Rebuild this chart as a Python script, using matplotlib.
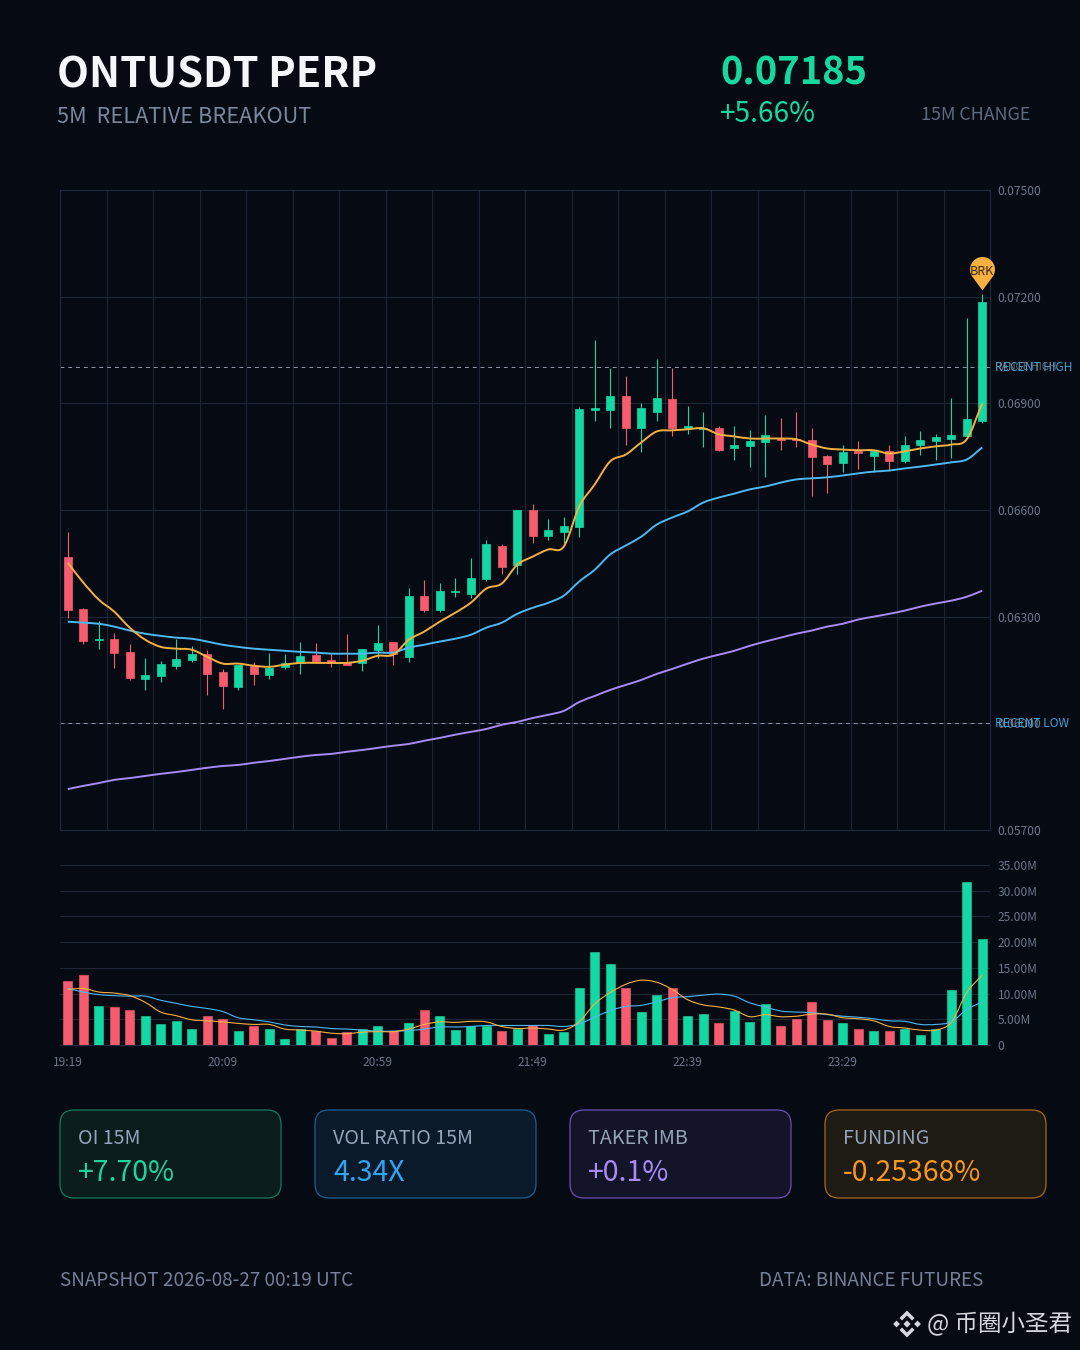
import matplotlib
matplotlib.use("Agg")
import matplotlib.pyplot as plt
import numpy as np
from matplotlib.patches import FancyBboxPatch, PathPatch, Polygon
from matplotlib.path import Path

plt.rcParams['font.family'] = ['Noto Sans CJK SC', 'DejaVu Sans']

# candles, 5m bars from 19:19
opens = [0.06469, 0.06322, 0.06234, 0.06238, 0.06201, 0.06125, 0.06134, 0.06162, 0.06179, 0.06196,
         0.06145, 0.06103, 0.06162, 0.06137, 0.06159, 0.06170, 0.06193, 0.06179, 0.06170, 0.06170,
         0.06207, 0.06230, 0.06187, 0.06359, 0.06320, 0.06370, 0.06365, 0.06407, 0.06500, 0.06444,
         0.06601, 0.06528, 0.06539, 0.06553, 0.06880, 0.06880, 0.06920, 0.06832, 0.06877, 0.06911,
         0.06830, 0.06827, 0.06832, 0.06773, 0.06779, 0.06790, 0.06801, 0.06801, 0.06796, 0.06751,
         0.06731, 0.06765, 0.06753, 0.06765, 0.06737, 0.06784, 0.06793, 0.06801, 0.06807, 0.06849]
closes = [0.06320, 0.06232, 0.06238, 0.06199, 0.06128, 0.06137, 0.06168, 0.06182, 0.06196, 0.06139,
          0.06106, 0.06165, 0.06139, 0.06156, 0.06170, 0.06190, 0.06176, 0.06170, 0.06165, 0.06210,
          0.06227, 0.06196, 0.06359, 0.06320, 0.06373, 0.06373, 0.06410, 0.06503, 0.06441, 0.06601,
          0.06528, 0.06545, 0.06556, 0.06883, 0.06886, 0.06920, 0.06832, 0.06886, 0.06914, 0.06830,
          0.06835, 0.06832, 0.06770, 0.06784, 0.06793, 0.06810, 0.06796, 0.06796, 0.06748, 0.06728,
          0.06762, 0.06759, 0.06765, 0.06739, 0.06784, 0.06796, 0.06804, 0.06810, 0.06855, 0.07185]
highs = [0.06539, 0.06325, 0.06289, 0.06255, 0.06224, 0.06184, 0.06176, 0.06238, 0.06218, 0.06207,
         0.06153, 0.06165, 0.06173, 0.06199, 0.06196, 0.06230, 0.06227, 0.06196, 0.06252, 0.06210,
         0.06277, 0.06230, 0.06382, 0.06404, 0.06396, 0.06410, 0.06466, 0.06517, 0.06503, 0.06601,
         0.06618, 0.06576, 0.06579, 0.06889, 0.07077, 0.06999, 0.06976, 0.06900, 0.07024, 0.06999,
         0.06892, 0.06877, 0.06835, 0.06835, 0.06824, 0.06866, 0.06858, 0.06877, 0.06832, 0.06756,
         0.06784, 0.06793, 0.06765, 0.06782, 0.06807, 0.06821, 0.06815, 0.06914, 0.07139, 0.07207]
lows = [0.06297, 0.06224, 0.06210, 0.06156, 0.06122, 0.06094, 0.06117, 0.06153, 0.06173, 0.06080,
        0.06041, 0.06094, 0.06108, 0.06125, 0.06153, 0.06139, 0.06173, 0.06159, 0.06165, 0.06148,
        0.06184, 0.06165, 0.06173, 0.06314, 0.06314, 0.06356, 0.06353, 0.06399, 0.06421, 0.06421,
        0.06508, 0.06517, 0.06508, 0.06525, 0.06849, 0.06830, 0.06784, 0.06762, 0.06849, 0.06807,
        0.06813, 0.06776, 0.06765, 0.06742, 0.06720, 0.06694, 0.06770, 0.06776, 0.06638, 0.06649,
        0.06706, 0.06714, 0.06708, 0.06711, 0.06731, 0.06756, 0.06742, 0.06745, 0.06807, 0.06844]

ema_fast = [0.06452, 0.06396, 0.06348, 0.06314, 0.06269, 0.06235, 0.06215, 0.06210, 0.06207, 0.06187,
            0.06168, 0.06168, 0.06162, 0.06159, 0.06165, 0.06170, 0.06170, 0.06170, 0.06170, 0.06176,
            0.06190, 0.06193, 0.06235, 0.06258, 0.06286, 0.06311, 0.06339, 0.06379, 0.06393, 0.06446,
            0.06469, 0.06489, 0.06497, 0.06610, 0.06672, 0.06737, 0.06756, 0.06790, 0.06821, 0.06824,
            0.06827, 0.06830, 0.06813, 0.06807, 0.06801, 0.06801, 0.06801, 0.06799, 0.06784, 0.06773,
            0.06770, 0.06768, 0.06768, 0.06759, 0.06765, 0.06773, 0.06779, 0.06784, 0.06799, 0.06900]
ema_mid = [0.06286, 0.06283, 0.06280, 0.06272, 0.06261, 0.06252, 0.06246, 0.06241, 0.06238, 0.06230,
           0.06221, 0.06215, 0.06210, 0.06207, 0.06204, 0.06201, 0.06199, 0.06196, 0.06196, 0.06196,
           0.06199, 0.06199, 0.06213, 0.06221, 0.06230, 0.06238, 0.06249, 0.06269, 0.06283, 0.06308,
           0.06325, 0.06339, 0.06359, 0.06399, 0.06432, 0.06475, 0.06500, 0.06525, 0.06559, 0.06579,
           0.06596, 0.06621, 0.06635, 0.06646, 0.06658, 0.06666, 0.06677, 0.06686, 0.06689, 0.06692,
           0.06697, 0.06703, 0.06708, 0.06711, 0.06717, 0.06722, 0.06728, 0.06734, 0.06742, 0.06776]
ema_slow = [0.05815, 0.05824, 0.05832, 0.05841, 0.05846, 0.05852, 0.05858, 0.05863, 0.05869, 0.05875,
            0.05880, 0.05883, 0.05889, 0.05894, 0.05900, 0.05906, 0.05911, 0.05914, 0.05920, 0.05925,
            0.05931, 0.05937, 0.05942, 0.05951, 0.05959, 0.05968, 0.05976, 0.05984, 0.05996, 0.06004,
            0.06015, 0.06024, 0.06035, 0.06060, 0.06077, 0.06094, 0.06108, 0.06122, 0.06139, 0.06153,
            0.06168, 0.06182, 0.06193, 0.06204, 0.06218, 0.06230, 0.06241, 0.06252, 0.06261, 0.06272,
            0.06280, 0.06292, 0.06300, 0.06308, 0.06317, 0.06328, 0.06337, 0.06345, 0.06356, 0.06373]

# volume in millions
volume = [12.5, 13.7, 7.5, 7.4, 6.9, 5.7, 4.0, 4.7, 3.2, 5.7,
          5.0, 2.8, 3.6, 3.2, 1.1, 3.2, 2.8, 1.4, 2.6, 3.1,
          3.6, 2.7, 4.2, 6.8, 5.6, 3.0, 3.7, 3.7, 2.7, 3.2,
          3.8, 2.1, 2.6, 11.1, 18.0, 15.8, 11.1, 6.4, 9.7, 11.1,
          5.6, 6.1, 4.2, 6.7, 4.5, 7.9, 3.6, 5.1, 8.4, 4.9,
          4.2, 3.2, 2.7, 2.8, 3.2, 1.9, 3.1, 10.7, 31.6, 20.7]
vol_fast = [10.8, 11.0, 10.3, 10.1, 9.6, 8.3, 6.4, 5.7, 4.9, 4.7,
            4.5, 4.2, 4.0, 4.0, 3.1, 2.9, 2.7, 2.3, 2.2, 2.5,
            2.6, 2.6, 3.1, 4.0, 4.5, 4.4, 4.6, 4.5, 3.6, 3.2,
            3.3, 3.1, 2.9, 4.5, 8.0, 10.2, 11.8, 12.6, 12.2, 10.8,
            8.8, 7.8, 7.4, 6.8, 5.5, 5.9, 5.5, 5.6, 6.0, 6.0,
            5.3, 5.1, 4.7, 3.6, 3.3, 2.9, 2.9, 4.4, 10.2, 13.6]
vol_slow = [11.0, 10.3, 9.8, 9.6, 9.5, 9.5, 8.7, 8.1, 7.5, 7.1,
            6.5, 5.3, 4.9, 4.5, 3.9, 3.6, 3.5, 3.2, 3.1, 2.9,
            2.7, 2.7, 2.8, 3.1, 3.5, 3.5, 3.6, 3.8, 3.8, 3.8,
            3.8, 3.8, 3.6, 4.1, 5.4, 6.7, 7.5, 7.7, 8.4, 9.2,
            9.4, 9.7, 9.9, 9.5, 8.2, 7.4, 6.6, 6.4, 6.3, 5.9,
            5.6, 5.4, 5.1, 4.7, 4.6, 4.0, 4.0, 4.5, 6.9, 8.4]

price_ticks = [0.057, 0.060, 0.063, 0.066, 0.069, 0.072, 0.075]
vol_ticks = [0, 5, 10, 15, 20, 25, 30, 35]
time_pos = [0, 10, 20, 30, 40, 50]
time_labels = ["19:19", "20:09", "20:59", "21:49", "22:39", "23:29"]
recent_high = 0.07002
recent_low = 0.06000

cards = [("OI 15M", "+7.70%", "#0b1c1c", "#127a5c", "#1fd39c"),
         ("VOL RATIO 15M", "4.34X", "#0a1a2a", "#1c5f94", "#2ea6f2"),
         ("TAKER IMB", "+0.1%", "#141428", "#6b4fb5", "#a78bfa"),
         ("FUNDING", "-0.25368%", "#1e1a14", "#a8661a", "#f7981d")]

BG = "#060a13"
GRID = "#1c2636"
UP = "#14d8a3"
DOWN = "#f65c6d"
ORANGE = "#f6b042"
BLUE = "#4cb8f4"
PURPLE = "#a78bfa"
TICK = "#6b7688"


def fs(px):
    return px * 0.72


def smooth_line(ax, xs, ys, color, lw, zorder):
    # curve through the values, bezier handles only
    pts = np.column_stack([xs, ys])
    slopes = np.gradient(pts, axis=0)
    verts = [pts[0]]
    codes = [Path.MOVETO]
    for i in range(len(pts) - 1):
        verts += [pts[i] + slopes[i] / 3, pts[i + 1] - slopes[i + 1] / 3, pts[i + 1]]
        codes += [Path.CURVE4] * 3
    ax.add_patch(PathPatch(Path(verts, codes), fill=False, edgecolor=color, lw=lw, zorder=zorder))


x = np.arange(len(opens))
opens = np.array(opens)
closes = np.array(closes)
is_up = closes >= opens
colors = [UP if u else DOWN for u in is_up]

fig = plt.figure(figsize=(10.8, 13.5), dpi=100, facecolor=BG)

# full-size layer in pixels for the header, cards and footer
bg = fig.add_axes([0, 0, 1, 1])
bg.set_xlim(0, 1080)
bg.set_ylim(1350, 0)
bg.axis("off")

bg.text(57, 76, "ONTUSDT PERP", color="#f3f6fa", fontsize=fs(41.6), fontweight="bold", va="center")
bg.text(57, 117, "5M  RELATIVE BREAKOUT", color="#7b889c", fontsize=fs(21.75), va="center")
bg.text(720, 73, "0.07185", color="#16d9a0", fontsize=fs(38), fontweight="bold", va="center")
bg.text(720, 114, "+5.66%", color="#16d9a0", fontsize=fs(28), va="center")
bg.text(1030, 115, "15M CHANGE", color="#5f6b7e", fontsize=fs(17.9), va="center", ha="right")

for i, (label, val, fill, edge, col) in enumerate(cards):
    x0 = 60 + 255 * i
    bg.add_patch(FancyBboxPatch((x0 + 14, 1110 + 14), 221 - 28, 88 - 28,
                                boxstyle="round,pad=14,rounding_size=14",
                                facecolor=fill, edgecolor=edge, linewidth=0.9))
    bg.text(x0 + 18, 1139, label, color="#94a3b8", fontsize=fs(19.7), va="center")
    bg.text(x0 + 18, 1173, val, color=col, fontsize=fs(28.4), va="center")

bg.text(60, 1280, "SNAPSHOT 2026-08-27 00:19 UTC", color="#758196", fontsize=fs(18.9), va="center")
bg.text(983, 1280, "DATA: BINANCE FUTURES", color="#758196", fontsize=fs(18.9), va="center", ha="right")

# binance logo + watermark
logo = "#d4d7db"
cx, cy = 907, 1324
for dx, dy, r in [(-10.5, 0, 3.4), (10.5, 0, 3.4), (0, 0, 3.6)]:
    bg.add_patch(Polygon([(cx + dx - r, cy + dy), (cx + dx, cy + dy - r), (cx + dx + r, cy + dy), (cx + dx, cy + dy + r)],
                         facecolor=logo, edgecolor="none"))
for s in (-1, 1):
    bg.add_patch(Polygon([(cx - 7.5, cy + s * 6), (cx, cy + s * 13.5), (cx + 7.5, cy + s * 6), (cx + 5, cy + s * 3.5),
                          (cx, cy + s * 8.5), (cx - 5, cy + s * 3.5)], facecolor=logo, edgecolor="none"))
bg.text(927, 1324, "@ 币圈小圣君", color="#d4d7db", fontsize=fs(23.5), va="center")

# price panel
ax = fig.add_axes([60 / 1080, 1 - 830 / 1350, 930 / 1080, 640 / 1350], facecolor="none")
ax.set_xlim(-0.5, 59.5)
ax.set_ylim(0.057, 0.075)
ax.vlines(x, lows, highs, colors=colors, linewidth=0.8, zorder=2)
ax.bar(x, np.abs(closes - opens), bottom=np.minimum(opens, closes), width=0.52,
       color=colors, edgecolor=colors, linewidth=0.5, zorder=3)
smooth_line(ax, x, ema_slow, PURPLE, 1.4, 4)
smooth_line(ax, x, ema_mid, BLUE, 1.4, 4)
smooth_line(ax, x, ema_fast, ORANGE, 1.4, 5)

for level in (recent_high, recent_low):
    ax.axhline(level, color="#8d97a8", lw=0.7, dashes=(4, 4), zorder=1.5)

ax.set_xticks(np.arange(-0.5, 60, 3))
ax.set_yticks(price_ticks)
ax.set_yticklabels(["%.5f" % t for t in price_ticks])
ax.yaxis.tick_right()
ax.tick_params(axis="y", length=0, pad=5.5, labelsize=fs(12), labelcolor=TICK)
ax.tick_params(axis="x", length=0, labelbottom=False)
ax.grid(True, color=GRID, lw=0.8, zorder=0)
ax.set_axisbelow(True)
for s in ax.spines.values():
    s.set_color("#1f2a3c")
    s.set_linewidth(0.8)

# breakout pin above last candle
a = np.radians(np.linspace(-36.5, 216.5, 40))
pin = np.vstack([[[0, 4]], np.c_[12.5 * np.cos(a), 25 + 12.5 * np.sin(a)], [[0, 4]]])
pin_marker = Path(pin, closed=True)
ax.plot([59], [highs[59]], marker=pin_marker, markersize=2 * 37.5 * 0.72, color=ORANGE,
        markeredgewidth=0, clip_on=False, zorder=6)
ax.annotate("BRK", (59, highs[59]), xytext=(0, 16), textcoords="offset points", ha="center", va="center",
            color="#3a2c12", fontsize=fs(12.5), zorder=7, annotation_clip=False)

# labels of the two levels, right of the axis
trans = ax.get_yaxis_transform()
ax.text(1.0055, recent_high, "RECENT HIGH", transform=trans, color="#4cb8f4", fontsize=fs(12), va="center", clip_on=False, alpha=0.85)
ax.text(1.0055, recent_high, "RANGE HIGH", transform=trans, color="#7d8899", fontsize=fs(10.5), va="center", clip_on=False, alpha=0.8)
ax.text(1.0055, recent_low, "RECENT LOW", transform=trans, color="#4cb8f4", fontsize=fs(12), va="center", clip_on=False, alpha=0.85)

# volume panel
vx = fig.add_axes([60 / 1080, 1 - 1045 / 1350, 930 / 1080, 180 / 1350], facecolor="none")
vx.set_xlim(-0.5, 59.5)
vx.set_ylim(0, 35)
vx.bar(x, volume, width=0.55, color=colors, edgecolor=colors, linewidth=0.4, zorder=3)
smooth_line(vx, x, vol_slow, BLUE, 0.8, 4)
smooth_line(vx, x, vol_fast, ORANGE, 0.8, 5)
vx.set_yticks(vol_ticks)
vx.set_yticklabels(["0" if t == 0 else "%.2fM" % t for t in vol_ticks])
vx.yaxis.tick_right()
vx.set_xticks(time_pos)
vx.set_xticklabels(time_labels)
vx.tick_params(axis="y", length=0, pad=5.5, labelsize=fs(12), labelcolor=TICK)
vx.tick_params(axis="x", length=0, pad=8, labelsize=fs(12), labelcolor=TICK)
vx.grid(True, axis="y", color=GRID, lw=0.8, zorder=0)
vx.set_axisbelow(True)
for name, s in vx.spines.items():
    s.set_visible(name == "bottom")
    s.set_color("#1f2a3c")

fig.savefig("out.png", dpi=100, facecolor=BG)
